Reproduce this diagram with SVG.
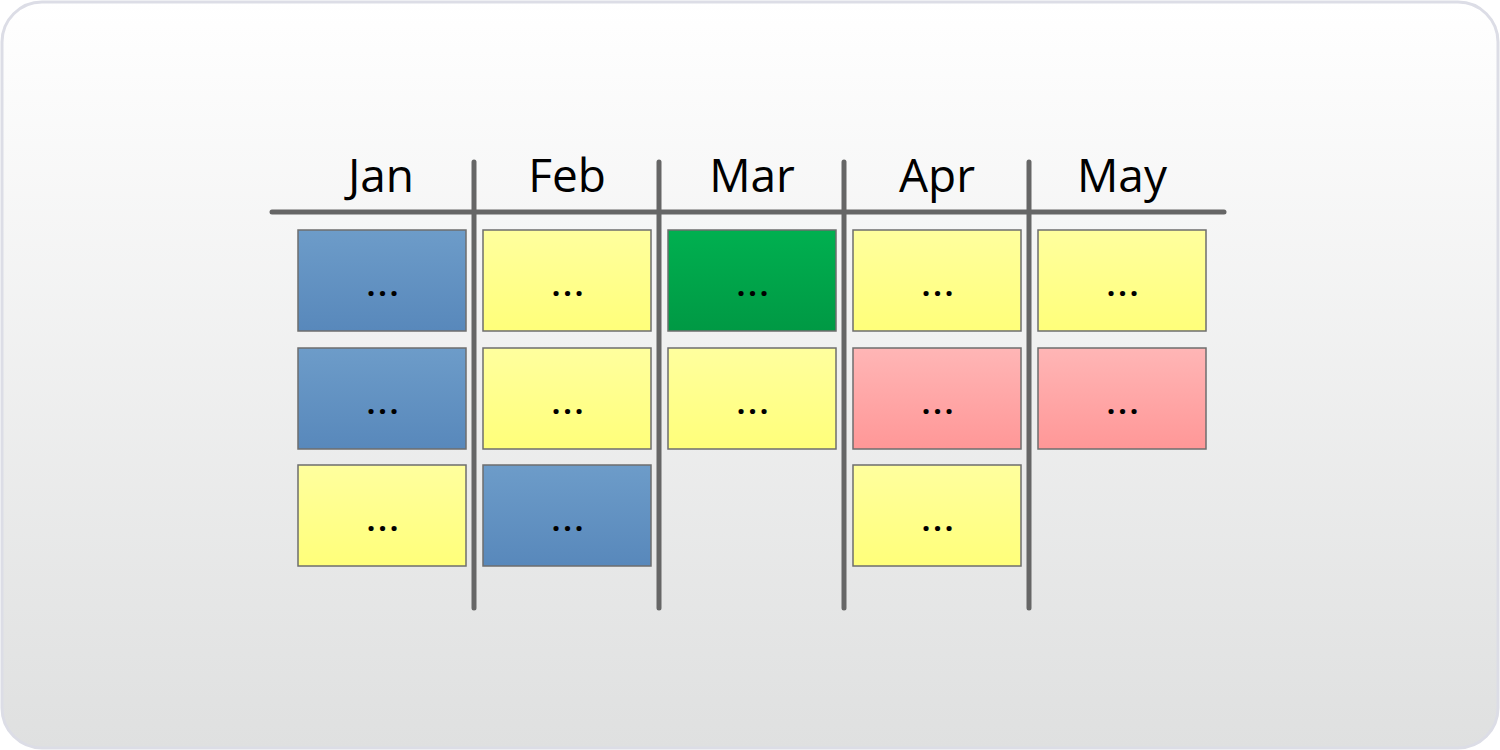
<svg xmlns="http://www.w3.org/2000/svg" width="1500" height="750" viewBox="0 0 1500 750">
<defs>
<linearGradient id="bg" x1="0" y1="0" x2="0" y2="1"><stop offset="0" stop-color="#ffffff"/><stop offset="1" stop-color="#dfe0e0"/></linearGradient>
<linearGradient id="gBlue" x1="0" y1="0" x2="0" y2="1"><stop offset="0" stop-color="#6d9cc9"/><stop offset="1" stop-color="#5888bb"/></linearGradient>
<linearGradient id="gYellow" x1="0" y1="0" x2="0" y2="1"><stop offset="0" stop-color="#ffff9e"/><stop offset="1" stop-color="#ffff7a"/></linearGradient>
<linearGradient id="gGreen" x1="0" y1="0" x2="0" y2="1"><stop offset="0" stop-color="#00b050"/><stop offset="1" stop-color="#009944"/></linearGradient>
<linearGradient id="gPink" x1="0" y1="0" x2="0" y2="1"><stop offset="0" stop-color="#ffb6b6"/><stop offset="1" stop-color="#ff9797"/></linearGradient>
</defs>
<style>
.card rect{stroke:#6e6e6e;stroke-width:1.5}
.card text{font-family:"Open Sans","Liberation Sans",sans-serif;font-size:30px;font-weight:bold;letter-spacing:3px;text-anchor:middle;fill:#000}
.hdr{font-family:"Open Sans","Liberation Sans",sans-serif;font-size:46px;text-anchor:middle;fill:#000}
.ln{stroke:#666;stroke-width:5;stroke-linecap:round;fill:none}
.blue{fill:url(#gBlue)}.yellow{fill:url(#gYellow)}.green{fill:url(#gGreen)}.pink{fill:url(#gPink)}
</style>
<rect x="2" y="2" width="1496" height="746" rx="40" ry="40" fill="url(#bg)" stroke="#dcdde6" stroke-width="3"/>
<g id="headers">
<text class="hdr" x="381" y="192">Jan</text>
<text class="hdr" x="567" y="192">Feb</text>
<text class="hdr" x="752" y="192">Mar</text>
<text class="hdr" x="937" y="192">Apr</text>
<text class="hdr" x="1122" y="192">May</text>
</g>
<g id="connectors">
<line class="ln" x1="272" y1="212" x2="1224" y2="212"/>
<line class="ln" x1="474" y1="162" x2="474" y2="608"/>
<line class="ln" x1="659" y1="162" x2="659" y2="608"/>
<line class="ln" x1="844" y1="162" x2="844" y2="608"/>
<line class="ln" x1="1029" y1="162" x2="1029" y2="608"/>
</g>
<g id="jan1" class="card"><rect class="blue" x="298" y="230" width="168" height="101"/><text x="384" y="296">...</text></g>
<g id="jan2" class="card"><rect class="blue" x="298" y="348" width="168" height="101"/><text x="384" y="414">...</text></g>
<g id="jan3" class="card"><rect class="yellow" x="298" y="465" width="168" height="101"/><text x="384" y="531">...</text></g>
<g id="feb1" class="card"><rect class="yellow" x="483" y="230" width="168" height="101"/><text x="569" y="296">...</text></g>
<g id="feb2" class="card"><rect class="yellow" x="483" y="348" width="168" height="101"/><text x="569" y="414">...</text></g>
<g id="feb3" class="card"><rect class="blue" x="483" y="465" width="168" height="101"/><text x="569" y="531">...</text></g>
<g id="mar1" class="card"><rect class="green" x="668" y="230" width="168" height="101"/><text x="754" y="296">...</text></g>
<g id="mar2" class="card"><rect class="yellow" x="668" y="348" width="168" height="101"/><text x="754" y="414">...</text></g>
<g id="apr1" class="card"><rect class="yellow" x="853" y="230" width="168" height="101"/><text x="939" y="296">...</text></g>
<g id="apr2" class="card"><rect class="pink" x="853" y="348" width="168" height="101"/><text x="939" y="414">...</text></g>
<g id="apr3" class="card"><rect class="yellow" x="853" y="465" width="168" height="101"/><text x="939" y="531">...</text></g>
<g id="may1" class="card"><rect class="yellow" x="1038" y="230" width="168" height="101"/><text x="1124" y="296">...</text></g>
<g id="may2" class="card"><rect class="pink" x="1038" y="348" width="168" height="101"/><text x="1124" y="414">...</text></g>
</svg>
